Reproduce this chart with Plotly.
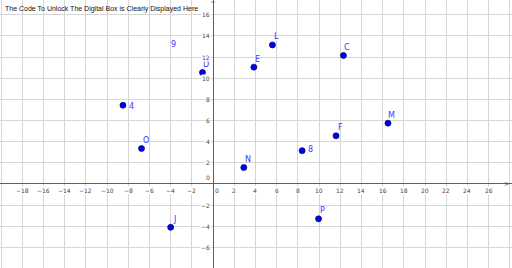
import plotly.graph_objects as go

# Data
point_names = ["D", "L", "E", "4", "O", "N", "C", "M", "F", "8", "J", "P"]
point_x = [-1.0, 5.6, 3.85, -8.5, -6.75, 2.9, 12.3, 16.5, 11.6, 8.4, -4.0, 9.95]
point_y = [10.55, 13.15, 11.05, 7.45, 3.35, 1.55, 12.15, 5.75, 4.55, 3.15, -4.1, -3.3]
label_dx = [4, 4, 4, 9, 4, 4, 4, 4, 4, 8, 4, 4]
label_dy = [8, 8, 8, -1, 8, 8, 8, 8, 8, 1, 8, 8]
free_label = ["9"]
free_label_x = [-3.7]
free_label_y = [13.2]
x_ticks = [-18, -16, -14, -12, -10, -8, -6, -4, -2, 0, 2, 4, 6, 8, 10, 12, 14, 16, 18, 20, 22, 24, 26]
y_ticks = [-6, -4, -2, 0, 2, 4, 6, 8, 10, 12, 14, 16]
title_text = "The Code To Unlock The Digital Box is Clearly Displayed Here"

X_RANGE = [-20.1, 28.2]
Y_RANGE = [-7.95, 17.4]
LABEL_FONT = dict(family="DejaVu Sans", size=8, color="#3a3aff")

fig = go.Figure()

fig.add_trace(go.Scatter(
    x=point_x, y=point_y, mode="markers",
    marker=dict(size=6, color="#0000ee", line=dict(color="#000066", width=0.7)),
    hoverinfo="skip", cliponaxis=False,
))

annotations = []
for name, px, py, dx, dy in zip(point_names, point_x, point_y, label_dx, label_dy):
    annotations.append(dict(x=px, y=py, text=name, showarrow=False, xshift=dx, yshift=dy,
                            font=LABEL_FONT))
for name, px, py in zip(free_label, free_label_x, free_label_y):
    annotations.append(dict(x=px, y=py, text=name, showarrow=False, font=LABEL_FONT))

tick_font = dict(family="DejaVu Sans", size=6, color="#444444")
for t in x_ticks:
    if t == 0:
        annotations.append(dict(x=t, y=0, text="0", showarrow=False, xshift=4, yshift=-7,
                                font=tick_font, bgcolor="white", borderpad=0))
        continue
    annotations.append(dict(x=t, y=0, text=("\u2212" + str(-t)) if t < 0 else str(t),
                            showarrow=False, yshift=-7, font=tick_font,
                            bgcolor="white", borderpad=0))
for t in y_ticks:
    if t == 0:
        annotations.append(dict(x=0, y=t, text="0", showarrow=False, xshift=-5, yshift=6,
                                font=tick_font, bgcolor="white", borderpad=0))
        continue
    annotations.append(dict(x=0, y=t, text=("\u2212" + str(-t)) if t < 0 else str(t),
                            showarrow=False, xanchor="right", xshift=-2, font=tick_font,
                            bgcolor="white", borderpad=0))

annotations.append(dict(xref="paper", yref="paper", x=0.006, y=0.968, xanchor="left", yanchor="middle",
                        text=title_text, showarrow=False,
                        font=dict(family="Liberation Sans Narrow, Arial Narrow, sans-serif", size=7.0,
                                  color="#111111")))
# axis arrows
annotations.append(dict(x=0, y=Y_RANGE[1], yanchor="top", text="^", showarrow=False, yshift=2,
                        font=dict(family="DejaVu Sans", size=7, color="#555555")))
annotations.append(dict(x=X_RANGE[1], y=0, xanchor="right", text=">", showarrow=False,
                        font=dict(family="DejaVu Sans", size=7, color="#555555")))

fig.update_layout(
    width=512, height=268, margin=dict(l=0, r=0, t=0, b=0),
    paper_bgcolor="white", plot_bgcolor="white", showlegend=False,
    annotations=annotations,
    xaxis=dict(range=X_RANGE, dtick=2, tick0=0, showgrid=True, gridcolor="#d6d6d6", gridwidth=1,
               zeroline=True, zerolinecolor="#606060", zerolinewidth=1, showticklabels=False,
               fixedrange=True),
    yaxis=dict(range=Y_RANGE, dtick=2, tick0=0, showgrid=True, gridcolor="#d6d6d6", gridwidth=1,
               zeroline=True, zerolinecolor="#606060", zerolinewidth=1, showticklabels=False,
               fixedrange=True),
)

fig.write_html("out.html")
